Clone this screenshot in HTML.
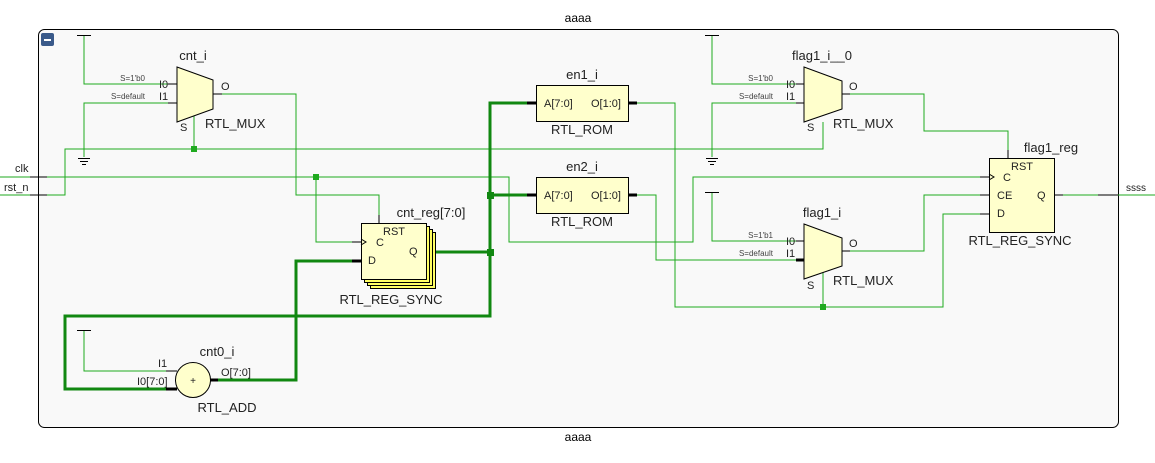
<!DOCTYPE html>
<html><head><meta charset="utf-8"><style>
html,body{margin:0;padding:0;background:#fff;}
svg{display:block;font-family:"Liberation Sans",sans-serif;}
</style></head><body>
<svg width="1155" height="463" viewBox="0 0 1155 463">
<rect x="38.5" y="29.5" width="1080" height="398" rx="6" fill="#f9f9f9" stroke="#000"/>
<text x="578" y="22" font-size="12" text-anchor="middle">aaaa</text>
<text x="578" y="441" font-size="12" text-anchor="middle">aaaa</text>
<rect x="41" y="33" width="13" height="13" rx="2" fill="#3a5a8a"/>
<rect x="44" y="39" width="7" height="2" fill="#fff"/>
<g fill="none" stroke="#1faa1f" stroke-width="1">
<polyline points="84,35 84,84 168,84"/>
<polyline points="84,157 84,103 168,103"/>
<polyline points="213,94 296,94 296,195 379,195 379,223"/>
<polyline points="0,195 65,195 65,149 823,149 823,122"/>
<line x1="194" y1="116" x2="194" y2="149"/>
<polyline points="0,177 509,177 509,242 693,242 693,177 980,177"/>
<polyline points="316,177 316,242 352,242"/>
<polyline points="628,103 675,103 675,307 943,307 943,214 989,214"/>
<line x1="823" y1="272" x2="823" y2="307"/>
<polyline points="628,195 656,195 656,260 796,260"/>
<polyline points="712,35 712,84 796,84"/>
<polyline points="712,157 712,103 796,103"/>
<polyline points="842,94 924,94 924,131 1008,131 1008,158"/>
<polyline points="712,192 712,241 796,241"/>
<polyline points="842,251 924,251 924,195 989,195"/>
<line x1="1054" y1="195" x2="1155" y2="195"/>
<polyline points="84,330 84,371 175,371"/>
</g>
<g fill="none" stroke="#118811" stroke-width="3">
<polyline points="430,252 490,252"/>
<polyline points="527,103 490,103 490,316 65,316 65,389 175,389"/>
<line x1="490" y1="195" x2="527" y2="195"/>
<polyline points="360,261 296,261 296,380 207,380"/>
</g>
<g fill="#1faa1f"><rect x="191" y="146" width="6" height="6"/><rect x="313" y="174" width="6" height="6"/><rect x="820" y="304" width="6" height="6"/></g>
<g fill="#118811"><rect x="487" y="249" width="7" height="7"/><rect x="487" y="192" width="7" height="7"/></g>
<g stroke="#000" stroke-width="1">
<line x1="77" y1="35.5" x2="91" y2="35.5"/><line x1="705" y1="35.5" x2="719" y2="35.5"/>
<line x1="705" y1="192.5" x2="719" y2="192.5"/><line x1="77" y1="330.5" x2="91" y2="330.5"/>
<line x1="78" y1="158.5" x2="90" y2="158.5"/><line x1="80" y1="161.5" x2="88" y2="161.5"/><line x1="82" y1="164.5" x2="86" y2="164.5"/>
<line x1="706" y1="158.5" x2="718" y2="158.5"/><line x1="708" y1="161.5" x2="716" y2="161.5"/><line x1="710" y1="164.5" x2="714" y2="164.5"/>
<line x1="30" y1="177" x2="47" y2="177"/><line x1="30" y1="195" x2="47" y2="195"/>
<line x1="1098" y1="195" x2="1118" y2="195"/>
<line x1="168" y1="84" x2="177" y2="84"/><line x1="168" y1="103" x2="177" y2="103"/><line x1="213" y1="94" x2="222" y2="94"/><line x1="194" y1="116" x2="194" y2="110"/>
<line x1="796" y1="84" x2="804" y2="84"/><line x1="796" y1="103" x2="804" y2="103"/><line x1="842" y1="94" x2="850" y2="94"/>
<line x1="796" y1="241" x2="804" y2="241"/><line x1="842" y1="251" x2="850" y2="251"/><line x1="823" y1="272" x2="823" y2="266"/>
<line x1="379" y1="215" x2="379" y2="223"/><line x1="352" y1="242" x2="361" y2="242"/>
<line x1="1008" y1="150" x2="1008" y2="158"/><line x1="980" y1="177" x2="989" y2="177"/><line x1="980" y1="195" x2="989" y2="195"/><line x1="980" y1="214" x2="989" y2="214"/><line x1="1054" y1="195" x2="1063" y2="195"/>
<line x1="166" y1="371" x2="177" y2="371"/>
</g>
<g stroke="#000" stroke-width="3">
<line x1="796" y1="260" x2="804" y2="260"/><line x1="352" y1="261" x2="361" y2="261"/><line x1="426" y1="252" x2="436" y2="252"/>
<line x1="527" y1="103" x2="536" y2="103"/><line x1="628" y1="103" x2="637" y2="103"/>
<line x1="527" y1="195" x2="536" y2="195"/><line x1="628" y1="195" x2="637" y2="195"/>
<line x1="166" y1="389" x2="177" y2="389"/><line x1="209" y1="380" x2="218" y2="380"/>
</g>
<g stroke="#000" fill="#ffffcc">
<polygon points="177,67 213,80 213,109 177,122"/>
<polygon points="804,67 842,81 842,109 804,122"/>
<polygon points="804,224 842,238 842,266 804,279"/>
<rect x="370.5" y="232.5" width="65" height="56" fill="#ffff66"/>
<rect x="367.5" y="229.5" width="65" height="56" fill="#ffff66"/>
<rect x="364.5" y="226.5" width="65" height="56" fill="#ffff66"/>
<rect x="361.5" y="223.5" width="65" height="56"/>
<rect x="536.5" y="85.5" width="92" height="36"/>
<rect x="536.5" y="177.5" width="92" height="36"/>
<rect x="989.5" y="158.5" width="65" height="74"/>
<circle cx="193" cy="380" r="17.5"/>
</g>
<g fill="none" stroke="#000"><polyline points="361,239 366,242 361,245"/><polyline points="989,174 994,177 989,180"/></g>
<g font-size="13" fill="#222">
<text x="193" y="60" text-anchor="middle">cnt_i</text>
<text x="221" y="90" font-size="11">O</text>
<text x="180" y="131" font-size="11">S</text>
<text x="205" y="128">RTL_MUX</text>
<text x="822" y="60" text-anchor="middle">flag1_i__0</text>
<text x="849" y="90" font-size="11">O</text>
<text x="807" y="131" font-size="11">S</text>
<text x="833" y="128">RTL_MUX</text>
<text x="822" y="217" text-anchor="middle">flag1_i</text>
<text x="849" y="247" font-size="11">O</text>
<text x="807" y="289" font-size="11">S</text>
<text x="833" y="285">RTL_MUX</text>
<text x="431" y="217" text-anchor="middle">cnt_reg[7:0]</text>
<text x="383" y="235" font-size="11">RST</text><text x="376" y="246" font-size="11">C</text><text x="368" y="264" font-size="11">D</text><text x="409" y="255" font-size="11">Q</text>
<text x="391" y="304" text-anchor="middle">RTL_REG_SYNC</text>
<text x="582" y="79" text-anchor="middle">en1_i</text>
<text x="544" y="107" font-size="11">A[7:0]</text><text x="591" y="107" font-size="11">O[1:0]</text>
<text x="582" y="134" text-anchor="middle">RTL_ROM</text>
<text x="582" y="171" text-anchor="middle">en2_i</text>
<text x="544" y="199" font-size="11">A[7:0]</text><text x="591" y="199" font-size="11">O[1:0]</text>
<text x="582" y="226" text-anchor="middle">RTL_ROM</text>
<text x="1051" y="152" text-anchor="middle">flag1_reg</text>
<text x="1011" y="170" font-size="11">RST</text><text x="1003" y="181" font-size="11">C</text><text x="997" y="199" font-size="11">CE</text><text x="1037" y="199" font-size="11">Q</text><text x="997" y="217" font-size="11">D</text>
<text x="1020" y="245" text-anchor="middle">RTL_REG_SYNC</text>
<text x="217" y="356" text-anchor="middle">cnt0_i</text>
<text x="193" y="384" font-size="10" text-anchor="middle">+</text>
<text x="227" y="412" text-anchor="middle">RTL_ADD</text>
<text x="15" y="172" font-size="11">clk</text>
<text x="4" y="191" font-size="11">rst_n</text>
<text x="1126" y="191" font-size="10">ssss</text>
<g font-size="11"><text x="159" y="88">I0</text><text x="159" y="100">I1</text>
<text x="786" y="88">I0</text><text x="786" y="100">I1</text>
<text x="786" y="245">I0</text><text x="786" y="257">I1</text>
<text x="158" y="367">I1</text><text x="137" y="385">I0[7:0]</text><text x="221" y="376">O[7:0]</text></g>
<g font-size="8" text-anchor="end" fill="#444"><text x="145" y="81">S=1'b0</text><text x="145" y="99">S=default</text>
<text x="773" y="81">S=1'b0</text><text x="773" y="99">S=default</text>
<text x="773" y="238">S=1'b1</text><text x="773" y="256">S=default</text></g>
</g>
</svg>
</body></html>
